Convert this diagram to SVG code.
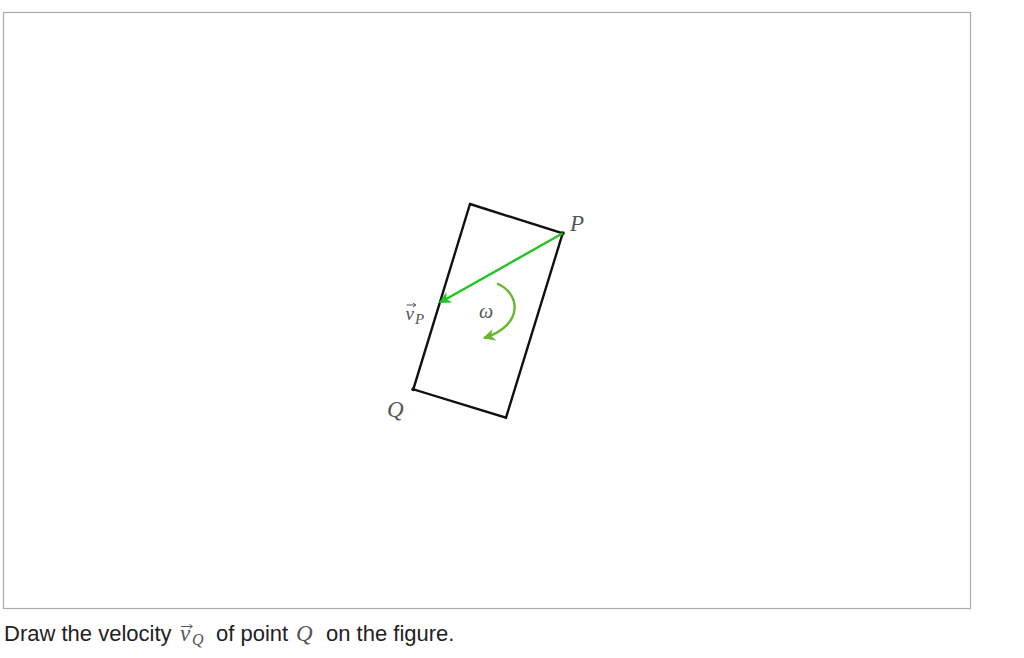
<svg xmlns="http://www.w3.org/2000/svg" width="1024" height="658" viewBox="0 0 1024 658">
<defs>
<style>
.math{font-family:"Liberation Serif","DejaVu Serif",serif;font-style:italic;fill:#555}
.body{font-family:"Liberation Sans",Arial,sans-serif;font-size:22px;fill:#222}
.vec{fill:none;stroke:#555;stroke-width:1;stroke-linecap:round;stroke-linejoin:round}
</style>
<marker id="ah" viewBox="0 0 10 10" refX="9" refY="5" markerWidth="5" markerHeight="5" orient="auto" markerUnits="strokeWidth">
<path d="M0,0 L10,5 L0,10 L3,5 Z" fill="#22c422"/>
</marker>
<marker id="ah2" viewBox="0 0 10 10" refX="9" refY="5" markerWidth="5" markerHeight="5" orient="auto" markerUnits="strokeWidth">
<path d="M0,0 L10,5 L0,10 L3,5 Z" fill="#66b82a"/>
</marker>
</defs>
<rect width="1024" height="658" fill="#fff"/>
<rect id="frame" x="3.5" y="12.5" width="967" height="596" fill="none" stroke="#aaa" stroke-width="1.2"/>
<g id="body">
<polygon points="470,204 562.7,233.3 506,417.7 413.3,389.3" fill="none" stroke="#111" stroke-width="2.4" stroke-linejoin="miter"/>
<circle cx="562.7" cy="233.3" r="2" fill="#111"/>
<circle cx="413.3" cy="389.3" r="2" fill="#111"/>
</g>
<g id="connectors">
<line x1="562.7" y1="233.3" x2="440" y2="302.5" stroke="#22c422" stroke-width="2.4" marker-end="url(#ah)"/>
<path d="M497,283.5 C520,293 525,325 484,338" fill="none" stroke="#66b82a" stroke-width="2.4" marker-end="url(#ah2)"/>
</g>
<g id="labels">
<text class="math" x="570" y="231" font-size="23">P</text>
<text class="math" x="387" y="417" font-size="23">Q</text>
<text class="math" x="405.5" y="320" font-size="19">v</text>
<path class="vec" d="M407,305 H415.5 M413.3,303.2 L415.8,305 L413.3,306.8"/>
<text class="math" x="415" y="324" font-size="15">P</text>
<text class="math" x="479" y="318" font-size="20">ω</text>
</g>
<g id="caption">
<text class="body" x="4" y="641">Draw the velocity<tspan class="math" font-size="23" x="180">v</tspan><tspan class="math" font-size="16" x="192" dy="4">Q</tspan><tspan x="216" dy="-4">of point</tspan><tspan class="math" font-size="23" x="296">Q</tspan><tspan x="326">on the figure.</tspan></text>
<path class="vec" d="M181.5,626.5 H192 M189.8,624.6 L192.3,626.5 L189.8,628.4"/>
</g>
</svg>
